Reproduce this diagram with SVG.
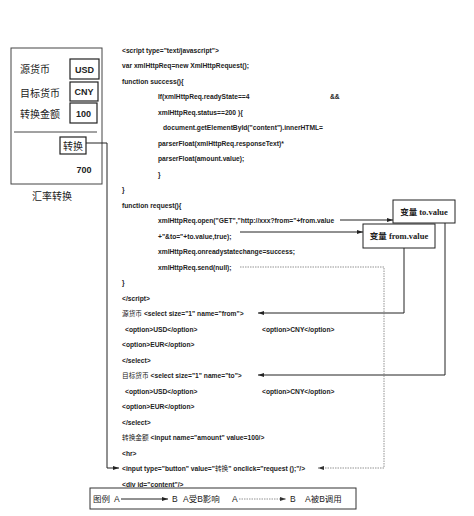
<svg xmlns="http://www.w3.org/2000/svg" width="474" height="516" viewBox="0 0 474 516">
<defs>
<style>
.c{font-family:"Liberation Sans","Noto Sans CJK SC",sans-serif;font-size:6.7px;font-weight:bold;fill:#222}
.cj{font-family:"Noto Sans CJK SC",sans-serif;font-size:6.7px;font-weight:normal;fill:#222}
.lb{font-family:"Noto Sans CJK SC",sans-serif;font-size:10px;fill:#222}
.v{font-family:"Liberation Sans",sans-serif;font-size:9px;font-weight:bold;fill:#222;text-anchor:middle}
.bx{fill:#fff;stroke:#222;stroke-width:1.2}
.sl{fill:none;stroke:#222;stroke-width:1}
.dl{fill:none;stroke:#777;stroke-width:0.8;stroke-dasharray:1.5 1}
.vb{font-family:"Liberation Serif","Noto Sans CJK SC",serif;font-size:8.5px;font-weight:bold;fill:#222;text-anchor:middle}
.lg{font-family:"Liberation Sans","Noto Sans CJK SC",sans-serif;font-size:8.5px;fill:#222}
</style>
<marker id="ah" viewBox="0 0 10 10" refX="10" refY="5" markerWidth="6" markerHeight="6" orient="auto-start-reverse" markerUnits="userSpaceOnUse">
<path d="M0,1.5 L10,5 L0,8.5 z" fill="#222"/>
</marker>
<marker id="ahd" viewBox="0 0 10 10" refX="10" refY="5" markerWidth="6" markerHeight="6" orient="auto-start-reverse" markerUnits="userSpaceOnUse">
<path d="M0,1.5 L10,5 L0,8.5 z" fill="#333"/>
</marker>
</defs>
<rect width="474" height="516" fill="#fff"/>

<g id="ui-form">
<rect x="11" y="48" width="91" height="136" fill="none" stroke="#444" stroke-width="1"/>
<text class="lb" x="20" y="72.5">源货币</text>
<text class="lb" x="20" y="96.5">目标货币</text>
<text class="lb" x="20" y="117.5">转换金额</text>
<rect class="bx" x="70" y="59" width="29" height="20"/>
<text class="v" x="84.5" y="72.5">USD</text>
<rect class="bx" x="70" y="82" width="28" height="19"/>
<text class="v" x="84" y="95">CNY</text>
<rect class="bx" x="70" y="103" width="27" height="20"/>
<text class="v" x="83.5" y="116.5">100</text>
<line x1="14" y1="132" x2="97" y2="132" stroke="#444" stroke-width="1"/>
<rect class="bx" x="60" y="137" width="26" height="17"/>
<text class="lb" x="73" y="149.5" text-anchor="middle">转换</text>
<text class="v" x="84" y="173">700</text>
<text class="lb" x="52" y="199.5" text-anchor="middle">汇率转换</text>
</g>

<g id="code">
<text class="c" x="122" y="52.5">&lt;script type="text/javascript"&gt;</text>
<text class="c" x="122" y="68">var xmlHttpReq=new XmlHttpRequest();</text>
<text class="c" x="122" y="83.5">function success(){</text>
<text class="c" x="158" y="99">If(xmlHttpReq.readyState==4</text>
<text class="c" x="330" y="99">&amp;&amp;</text>
<text class="c" x="158" y="114.5">xmlHttpReq.status==200 ){</text>
<text class="c" x="163" y="130">document.getElementById("content").innerHTML=</text>
<text class="c" x="158" y="145.5">parserFloat(xmlHttpReq.responseText)*</text>
<text class="c" x="158" y="161">parserFloat(amount.value);</text>
<text class="c" x="158" y="176.5">}</text>
<text class="c" x="122" y="192">}</text>
<text class="c" x="122" y="207.5">function request(){</text>
<text class="c" x="158" y="223">xmlHttpReq.open("GET","http://xxx?from="+from.value</text>
<text class="c" x="158" y="238.5">+"&amp;to="+to.value,true);</text>
<text class="c" x="158" y="254">xmlHttpReq.onreadystatechange=success;</text>
<text class="c" x="158" y="269.5">xmlHttpReq.send(null);</text>
<text class="c" x="122" y="285">}</text>
<text class="c" x="122" y="300.5">&lt;/script&gt;</text>
<text class="c" x="122" y="316"><tspan class="cj">源货币</tspan> &lt;select size="1" name="from"&gt;</text>
<text class="c" x="125" y="331.5">&lt;option&gt;USD&lt;/option&gt;</text>
<text class="c" x="262" y="331.5">&lt;option&gt;CNY&lt;/option&gt;</text>
<text class="c" x="122" y="347">&lt;option&gt;EUR&lt;/option&gt;</text>
<text class="c" x="122" y="362.5">&lt;/select&gt;</text>
<text class="c" x="122" y="378"><tspan class="cj">目标货币</tspan>   &lt;select size="1" name="to"&gt;</text>
<text class="c" x="125" y="393.5">&lt;option&gt;USD&lt;/option&gt;</text>
<text class="c" x="262" y="393.5">&lt;option&gt;CNY&lt;/option&gt;</text>
<text class="c" x="122" y="409">&lt;option&gt;EUR&lt;/option&gt;</text>
<text class="c" x="122" y="424.5">&lt;/select&gt;</text>
<text class="c" x="122" y="440"><tspan class="cj">转换金额</tspan>  &lt;input name="amount" value=100/&gt;</text>
<text class="c" x="122" y="455.5">&lt;hr&gt;</text>
<text class="c" x="122" y="471">&lt;input type="button" value="<tspan class="cj">转换</tspan>" onclick="request ();"/&gt;</text>
<text class="c" x="122" y="486.5">&lt;div id="content"/&gt;</text>
</g>

<g id="var-to">
<rect x="393" y="200" width="62" height="23" fill="#fff" stroke="#222" stroke-width="1"/>
<text class="vb" x="424" y="214.5">变量 to.value</text>
</g>
<g id="var-from">
<rect x="363" y="224" width="72" height="24" fill="#fff" stroke="#222" stroke-width="1"/>
<text class="vb" x="399" y="239">变量 from.value</text>
</g>

<g id="connectors">
<polyline class="sl" points="86,143 107,143 107,468 119,468" marker-end="url(#ah)"/>
<line class="sl" x1="340" y1="220" x2="393" y2="220" marker-end="url(#ah)"/>
<line class="sl" x1="240" y1="232" x2="363" y2="232" marker-end="url(#ah)"/>
<polyline class="sl" points="404,248 404,313 258,313" marker-end="url(#ah)"/>
<polyline class="sl" points="445,223 445,375 258,375" marker-end="url(#ah)"/>
<polyline class="dl" points="240,267 384,267 384,468 318,468" marker-end="url(#ahd)"/>
</g>

<g id="legend">
<rect x="90" y="488" width="266" height="21" fill="none" stroke="#333" stroke-width="1"/>
<text class="lg" x="93" y="502">图例</text>
<text class="lg" x="114" y="502">A</text>
<line class="sl" x1="121" y1="499" x2="168" y2="499" marker-end="url(#ah)"/>
<text class="lg" x="172" y="502">B</text>
<text class="lg" x="183" y="502">A受B影响</text>
<text class="lg" x="232" y="502">A</text>
<line class="dl" x1="239" y1="499" x2="286" y2="499" marker-end="url(#ahd)"/>
<text class="lg" x="290" y="502">B</text>
<text class="lg" x="305" y="502">A被B调用</text>
</g>
</svg>
